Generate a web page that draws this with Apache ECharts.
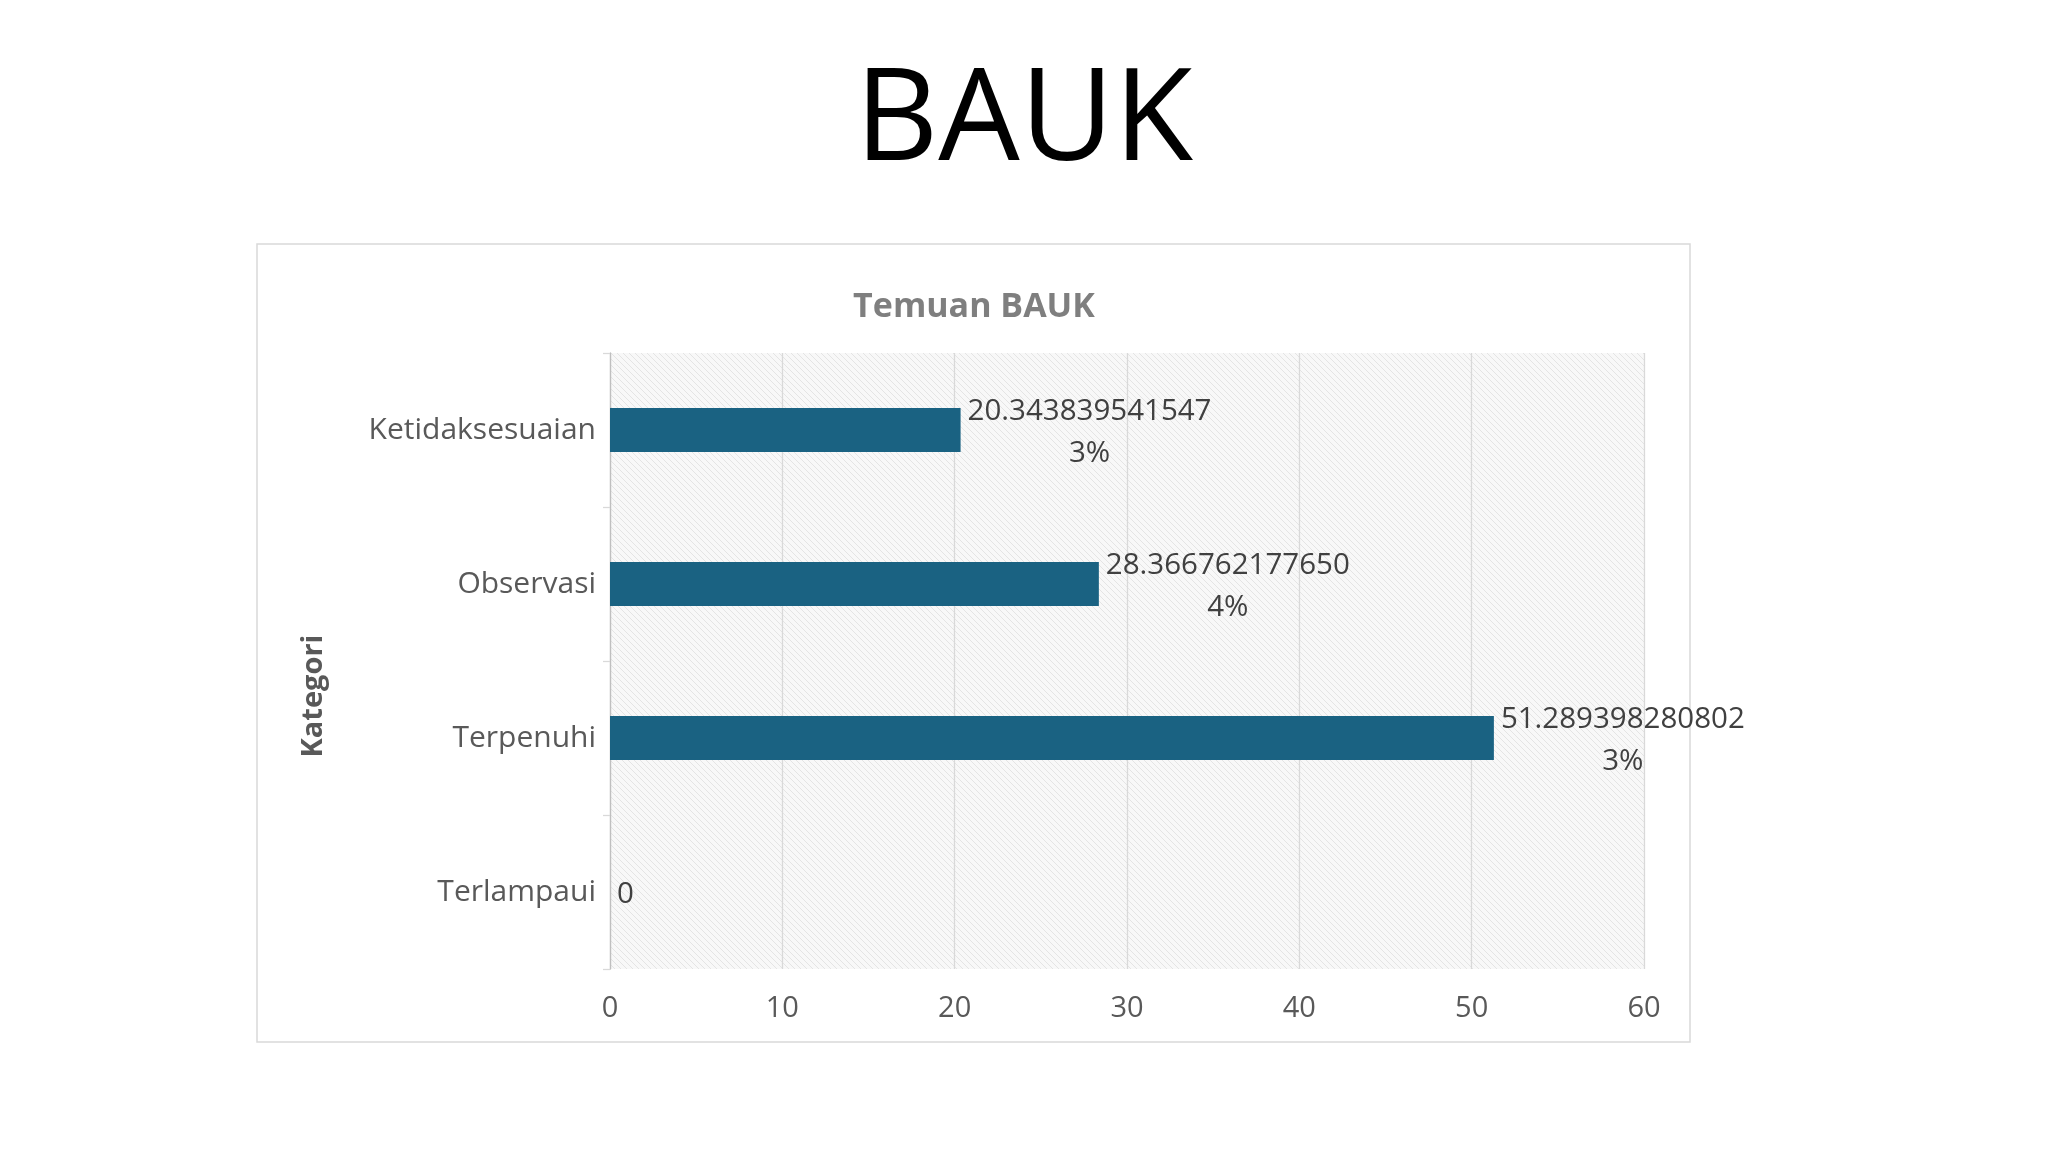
<!DOCTYPE html>
<html>
<head>
<meta charset="utf-8">
<script src="https://cdn.jsdelivr.net/npm/echarts@6/dist/echarts.min.js"></script>
<style>
html,body{margin:0;padding:0;background:#fff;}
#c{width:2048px;height:1152px;}
</style>
</head>
<body>
<div id="c"></div>
<script>
const pageTitle = 'BAUK';
const chartTitle = 'Temuan BAUK';
const axisName = 'Kategori';
const categories = ['Ketidaksesuaian', 'Observasi', 'Terpenuhi', 'Terlampaui'];
const values = [20.343839541547, 28.366762177650, 51.289398280802, 0];
const percents = ['3%', '4%', '3%', ''];
const xTicks = [0, 10, 20, 30, 40, 50, 60];

function makeHatch() {
  const c = document.createElement('canvas');
  c.width = 6; c.height = 6;
  const g = c.getContext('2d');
  g.fillStyle = '#f8f8f8';
  g.fillRect(0, 0, 6, 6);
  g.strokeStyle = '#e4e4e4';
  g.lineWidth = 1;
  g.beginPath();
  g.moveTo(-1, -1); g.lineTo(7, 7);
  g.moveTo(-4, 2); g.lineTo(4, 10);
  g.moveTo(2, -4); g.lineTo(10, 4);
  g.stroke();
  return c;
}

const chart = echarts.init(document.getElementById('c'));
const font = 'Open Sans';
chart.setOption({
  animation: false,
  backgroundColor: '#ffffff',
  textStyle: { fontFamily: font },
  graphic: [{
    type: 'rect', z: -10,
    shape: { x: 257, y: 244, width: 1433, height: 798 },
    style: { fill: '#ffffff', stroke: '#d9d9d9', lineWidth: 1.5 }
  }, {
    type: 'text', x: 314, y: 696, rotation: Math.PI / 2,
    style: { text: axisName, fontFamily: font, fontSize: 29, fontWeight: 'bold', fill: '#595959',
      align: 'center', verticalAlign: 'middle' }
  }],
  title: [
    { text: pageTitle, left: 'center', top: 51,
      textStyle: { fontFamily: font, fontSize: 129, fontWeight: 'normal', color: '#000000', lineHeight: 134 } },
    { text: chartTitle, left: 969, top: 285, textAlign: 'center',
      textStyle: { fontFamily: font, fontSize: 34, fontWeight: 'bold', color: '#7f7f7f' } }
  ],
  grid: {
    left: 610, right: 404, top: 353, bottom: 183,
    show: true, borderWidth: 0,
    backgroundColor: { image: makeHatch(), repeat: 'repeat' }
  },
  xAxis: {
    type: 'value', min: xTicks[0], max: xTicks[xTicks.length - 1], interval: 10,
    axisLine: { show: false }, axisTick: { show: false },
    splitLine: { show: true, lineStyle: { color: '#d9d9d9', width: 1.3 } },
    axisLabel: { fontFamily: font, fontSize: 29, color: '#595959', margin: 25 }
  },
  yAxis: {
    type: 'category', data: categories, inverse: true,
    axisLine: { show: true, lineStyle: { color: '#bfbfbf', width: 1.3 } },
    axisTick: { show: true, length: 7, lineStyle: { color: '#d9d9d9', width: 1.3 } },
    axisLabel: { fontFamily: font, fontSize: 30, color: '#595959', margin: 14, padding: [12, 0, 0, 0] }
  },
  series: [{
    type: 'bar',
    data: values,
    barWidth: 44,
    itemStyle: { color: '#1a6282' },
    label: {
      show: true, position: 'right', distance: 7, offset: [0, 3],
      fontFamily: font, fontSize: 29.5, color: '#404040', lineHeight: 42,
      formatter: function (p) {
        const v = p.value;
        if (v === 0) return '{v|0}';
        const pc = percents[p.dataIndex];
        return '{c|' + v.toFixed(12) + '}' + (pc ? '\n{c|' + pc + '}' : '');
      },
      rich: {
        v: { fontFamily: font, fontSize: 29.5, color: '#404040', lineHeight: 42 },
        c: { fontFamily: font, fontSize: 29.5, color: '#404040', lineHeight: 42, align: 'center' }
      }
    }
  }]
});
</script>
</body>
</html>
